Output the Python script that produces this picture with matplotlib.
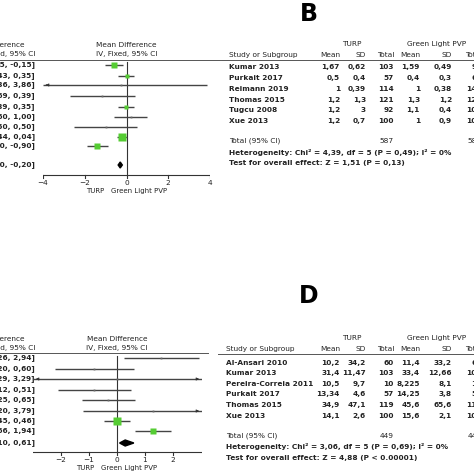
import matplotlib
matplotlib.use("Agg")
import matplotlib.pyplot as plt
from matplotlib.patches import Polygon

# ---- data: panel A forest (top-left)
a_mean = [-0.60, 0.00, -0.25, -1.15, -0.02, 0.20, -1.00, -0.20, -1.40]
a_lo = [-1.05, -0.43, -4.36, -2.69, -0.39, -0.60, -2.50, -0.44, -1.90]
a_hi = [-0.15, 0.35, 3.86, 0.39, 0.35, 1.00, 0.50, 0.04, -0.90]
a_w = [3, 2, 0, 0, 2, 0, 0, 5, 3]
a_tot = (-0.30, -0.40, -0.20)
a_ticks = [-4, -2, 0, 2, 4]

# ---- panel C forest (bottom-left)
c_mean = [1.60, -0.80, 0.00, -0.80, -0.30, 1.30, 0.00, 1.30]
c_lo = [0.26, -2.20, -3.29, -2.12, -1.25, -1.20, -0.45, 0.66]
c_hi = [2.94, 0.60, 3.29, 0.51, 0.65, 3.79, 0.46, 1.94]
c_w = [0, 0, 0, 0, 0, 0, 5, 3]
c_tot = (0.30, 0.10, 0.61)
c_ticks = [-2, -1, 0, 1, 2]

# ---- panel B table
b_study = ["Kumar 2013", "Purkait 2017", "Reimann 2019", "Thomas 2015", "Tugcu 2008", "Xue 2013"]
b_m1 = ["1,67", "0,5", "1", "1,2", "1,2", "1,2"]
b_s1 = ["0,62", "0,4", "0,39", "1,3", "3", "0,7"]
b_n1 = ["103", "57", "114", "121", "92", "100"]
b_m2 = ["1,59", "0,4", "1", "1,3", "1,1", "1"]
b_s2 = ["0,49", "0,3", "0,38", "1,2", "0,4", "0,9"]
b_n2 = ["98", "60", "140", "120", "100", "100"]

# ---- panel D table
d_study = ["Al-Ansari 2010", "Kumar 2013", "Pereira-Correia 2011", "Purkait 2017", "Thomas 2015", "Xue 2013"]
d_m1 = ["10,2", "31,4", "10,5", "13,34", "34,9", "14,1"]
d_s1 = ["34,2", "11,47", "9,7", "4,6", "47,1", "2,6"]
d_n1 = ["60", "103", "10", "57", "119", "100"]
d_m2 = ["11,4", "33,4", "8,225", "14,25", "45,6", "15,6"]
d_s2 = ["33,2", "12,66", "8,1", "3,8", "65,6", "2,1"]
d_n2 = ["60", "103", "10", "57", "119", "100"]

a_ci = ["[-1,05, -0,15]", "[-0,43, 0,35]", "[-4,36, 3,86]", "[-2,69, 0,39]", "[-0,39, 0,35]",
        "[-0,60, 1,00]", "[-2,50, 0,50]", "[-0,44, 0,04]", "[-1,90, -0,90]"]
a_tci = "[-0,40, -0,20]"
c_ci = ["[0,26, 2,94]", "[-2,20, 0,60]", "[-3,29, 3,29]", "[-2,12, 0,51]", "[-1,25, 0,65]",
        "[-1,20, 3,79]", "[-0,45, 0,46]", "[0,66, 1,94]"]
c_tci = "[0,10, 0,61]"

W = 474
fig = plt.figure(figsize=(4.74, 4.74), dpi=100)
bg = fig.add_axes([0, 0, 1, 1])
bg.set_xlim(0, W); bg.set_ylim(W, 0); bg.axis("off")
FS = 5.3
TC = "#222222"

def t(x, y, s, ha="left", bold=False, fs=FS, **kw):
    bg.text(x, y, s, ha=ha, va="center", fontsize=fs, color=TC,
            fontweight="bold" if bold else "normal", **kw)

def forest(x0, x1, lim, rows_y, mean, lo, hi, w, tot, toty, axy, ticks, ci, tci, hy):
    ax = fig.add_axes([x0 / W, 0, (x1 - x0) / W, 1])
    ax.set_xlim(*lim); ax.set_ylim(W, 0); ax.axis("off")
    ax.plot([0, 0], [hy + 4, axy], color="#333333", lw=0.8)
    for y, m, l, h, ww in zip(rows_y, mean, lo, hi, w):
        col = "#55cc33" if ww else "#666666"
        ll, hh = max(l, lim[0]), min(h, lim[1])
        ax.plot([ll, hh], [y, y], color="#444444", lw=1.0, solid_capstyle="butt")
        if l < lim[0]:
            ax.annotate("", xy=(lim[0], y), xytext=(lim[0] + 0.3, y),
                        arrowprops=dict(arrowstyle="-|>", color="#333333", lw=0.6, mutation_scale=4))
        if h > lim[1]:
            ax.annotate("", xy=(lim[1], y), xytext=(lim[1] - 0.3, y),
                        arrowprops=dict(arrowstyle="-|>", color="#333333", lw=0.6, mutation_scale=4))
        ax.plot(m, y, "s", color=col, ms=1.3 + ww * 1.0, mec="none", zorder=3)
    m, l, h = tot
    ax.add_patch(Polygon([[l, toty], [m, toty - 3], [h, toty], [m, toty + 3]],
                         color="black"))
    ax.plot([lim[0], lim[1]], [axy, axy], color="#333333", lw=0.8)
    for tk in ticks:
        ax.plot([tk, tk], [axy, axy + 3], color="#333333", lw=0.8)
        ax.text(tk, axy + 8, str(tk).replace("-", "\u2212"), ha="center", va="center",
                fontsize=FS, color=TC)
    ax.text(0, hy - 13, "Mean Difference", ha="center", va="center", fontsize=FS, color=TC)
    ax.text(0, hy - 4, "IV, Fixed, 95% CI", ha="center", va="center", fontsize=FS, color=TC)
    ax.text(0, axy + 16, "TURP   Green Light PVP", ha="center", va="center", fontsize=FS - 0.3, color=TC)
    for y, s in zip(rows_y, ci):
        t(35, y, s, ha="right", bold=True)
    t(35, toty, tci, ha="right", bold=True)
    t(24, hy - 13, "Mean Difference", ha="right")
    t(35, hy - 4, "IV, Fixed, 95% CI", ha="right")

def table(letter, ly, top, rows_y, study, m1, s1, n1, m2, s2, n2, tot1, tot2, het, test, sx):
    bg.text(309, ly, letter, ha="center", va="center", fontsize=17, color="black", fontweight="bold")
    t(352, top, "TURP", ha="center")
    t(437, top, "Green Light PVP", ha="center")
    hy = top + 11
    t(sx, hy, "Study or Subgroup")
    for x, s in [(340, "Mean"), (366, "SD"), (394, "Total"), (420, "Mean"), (452, "SD"), (482, "Total")]:
        t(x, hy, s, ha="right")
    bg.plot([sx - 8, W], [hy + 5, hy + 5], color="#555555", lw=0.7)
    for y, a, b, c, d, e, f, g in zip(rows_y, study, m1, s1, n1, m2, s2, n2):
        t(sx, y, a, bold=True)
        for x, s in [(340, b), (366, c), (394, d), (420, e), (452, f), (482, g)]:
            t(x, y, s, ha="right", bold=True)
    ty = rows_y[-1] + 20
    t(sx, ty, "Total (95% CI)")
    t(394, ty, tot1, ha="right"); t(482, ty, tot2, ha="right")
    t(sx, ty + 11, het, bold=True)
    t(sx, ty + 22, test, bold=True)

a_y = [65, 76, 85, 96, 107, 117, 127, 137, 146]
forest(43, 210, (-4, 4), a_y, a_mean, a_lo, a_hi, a_w, a_tot, 165, 175, a_ticks, a_ci, a_tci, 58)
c_y = [358, 369, 379, 390, 400, 411, 421, 431]
forest(33, 202, (-3.0, 3.05), c_y, c_mean, c_lo, c_hi, c_w, c_tot, 443, 452, c_ticks, c_ci, c_tci, 352)
bg.plot([0, 220], [60, 60], color="#555555", lw=0.7)
bg.plot([0, 208], [353, 353], color="#555555", lw=0.7)

table("B", 14, 44, [67, 78, 89, 100, 110, 121], b_study, b_m1, b_s1, b_n1, b_m2, b_s2, b_n2,
      "587", "587", "Heterogeneity: Chi\u00b2 = 4,39, df = 5 (P = 0,49); I\u00b2 = 0%",
      "Test for overall effect: Z = 1,51 (P = 0,13)", 229)
table("D", 296, 338, [363, 373, 384, 394, 405, 416], d_study, d_m1, d_s1, d_n1, d_m2, d_s2, d_n2,
      "449", "449", "Heterogeneity: Chi\u00b2 = 3,06, df = 5 (P = 0,69); I\u00b2 = 0%",
      "Test for overall effect: Z = 4,88 (P < 0.00001)", 226)

fig.savefig("out.png", dpi=100)
